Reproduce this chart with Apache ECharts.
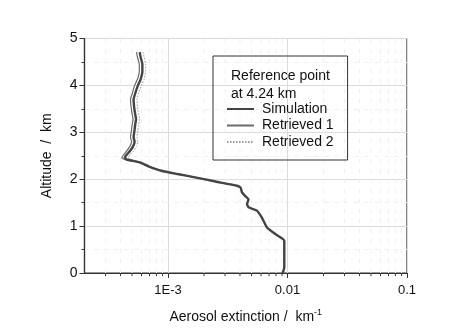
<!DOCTYPE html>
<html>
<head>
<meta charset="utf-8">
<script src="https://cdn.jsdelivr.net/npm/echarts@6/dist/echarts.min.js"></script>
<style>
  html, body { margin: 0; padding: 0; background: #fff; }
  #chart { width: 474px; height: 329px; }
</style>
</head>
<body>
<div id="chart"></div>
<script>
// Altitude levels (km) shared by all profiles
const altitudes = [4.71, 4.60, 4.45, 4.30, 4.13, 4.00, 3.85, 3.70, 3.55, 3.40, 3.28, 3.15, 3.05, 2.90, 2.80, 2.70, 2.60, 2.52, 2.46, 2.42, 2.36, 2.27, 2.18, 2.11, 2.04, 1.95, 1.86, 1.82, 1.72, 1.64, 1.57, 1.47, 1.40, 1.33, 1.18, 0.97, 0.83, 0.69, 0.40, 0.12, 0.03, 0.00];

// Aerosol extinction profiles (km^-1)
const simulation = [5.8e-4, 5.9e-4, 6.1e-4, 6.1e-4, 5.9e-4, 5.6e-4, 5.35e-4, 5.15e-4, 5.2e-4, 5.3e-4, 5.4e-4, 5.3e-4, 5.25e-4, 5.15e-4, 5.25e-4, 5.1e-4, 4.8e-4, 4.5e-4, 4.35e-4, 4.5e-4, 5.8e-4, 6.95e-4, 8.8e-4, 1.2e-3, 1.68e-3, 2.5e-3, 3.78e-3, 4.05e-3, 4.16e-3, 4.43e-3, 4.72e-3, 4.58e-3, 4.72e-3, 5.55e-3, 6.1e-3, 6.73e-3, 7.9e-3, 9.4e-3, 9.4e-3, 9.4e-3, 9.2e-3, 9.0e-3];
const retrieved1 = [5.45e-4, 5.55e-4, 5.75e-4, 5.75e-4, 5.55e-4, 5.25e-4, 5.05e-4, 4.85e-4, 4.9e-4, 5.0e-4, 5.1e-4, 5.0e-4, 4.95e-4, 4.85e-4, 4.95e-4, 4.8e-4, 4.5e-4, 4.25e-4, 4.1e-4, 4.35e-4, 5.7e-4, 6.9e-4, 8.8e-4, 1.2e-3, 1.68e-3, 2.5e-3, 3.78e-3, 4.05e-3, 4.16e-3, 4.43e-3, 4.72e-3, 4.58e-3, 4.72e-3, 5.55e-3, 6.1e-3, 6.73e-3, 7.9e-3, 9.4e-3, 9.4e-3, 9.4e-3, 9.2e-3, 9.0e-3];
const retrieved2 = [6.2e-4, 6.3e-4, 6.5e-4, 6.5e-4, 6.3e-4, 6.0e-4, 5.7e-4, 5.5e-4, 5.55e-4, 5.65e-4, 5.8e-4, 5.65e-4, 5.6e-4, 5.5e-4, 5.6e-4, 5.45e-4, 5.15e-4, 4.8e-4, 4.65e-4, 4.7e-4, 5.9e-4, 7.0e-4, 8.8e-4, 1.2e-3, 1.68e-3, 2.5e-3, 3.78e-3, 4.05e-3, 4.16e-3, 4.43e-3, 4.72e-3, 4.58e-3, 4.72e-3, 5.55e-3, 6.1e-3, 6.73e-3, 7.9e-3, 9.4e-3, 9.4e-3, 9.4e-3, 9.2e-3, 9.0e-3];

const seriesNames = ['Simulation', 'Retrieved 1', 'Retrieved 2'];

// Labelled decades on the extinction axis
const xTickValues = [1e-3, 1e-2, 1e-1];
const xTickLabels = ['1E-3', '0.01', '0.1'];
// Minor (2..9 x decade) positions on the extinction axis
const xMinorTicks = [3e-4, 4e-4, 5e-4, 6e-4, 7e-4, 8e-4, 9e-4,
  2e-3, 3e-3, 4e-3, 5e-3, 6e-3, 7e-3, 8e-3, 9e-3,
  2e-2, 3e-2, 4e-2, 5e-2, 6e-2, 7e-2, 8e-2, 9e-2];

const FONT = '"Liberation Sans", Arial, sans-serif';

function pairs(values) {
  return values.map((v, i) => [v, altitudes[i]]);
}

const chart = echarts.init(document.getElementById('chart'), null, { renderer: 'canvas' });

chart.setOption({
  animation: false,
  backgroundColor: '#fff',
  textStyle: { fontFamily: FONT },
  grid: {
    left: 84.5, right: 67, top: 38.5, bottom: 55,
    show: true, borderColor: '#333', borderWidth: 1.2, backgroundColor: 'transparent'
  },
  title: {
    text: 'Reference point\nat 4.24 km',
    left: 226, top: 62,
    textStyle: { fontFamily: FONT, fontSize: 14, fontWeight: 'normal', color: '#111', lineHeight: 18 }
  },
  legend: {
    data: seriesNames,
    orient: 'vertical',
    left: 213, top: 56,
    padding: [46, 14, 11, 13],
    itemWidth: 27, itemHeight: 14, itemGap: 2.5,
    borderColor: '#333', borderWidth: 1,
    itemStyle: { opacity: 0 },
    textStyle: { fontFamily: FONT, fontSize: 14, color: '#111', padding: [0, 0, 0, 3] }
  },
  xAxis: {
    type: 'log',
    min: 2e-4, max: 0.1,
    name: 'Aerosol extinction /  km{sup|-1}',
    nameLocation: 'middle',
    nameGap: 35,
    nameTextStyle: {
      fontFamily: FONT, fontSize: 14, color: '#111',
      rich: { sup: { fontFamily: FONT, fontSize: 9, color: '#111', padding: [0, 0, 9, 0] } }
    },
    axisLine: { lineStyle: { color: '#333', width: 1.2 } },
    axisTick: { show: true, length: 5, lineStyle: { color: '#333' } },
    axisLabel: {
      fontFamily: FONT, fontSize: 13, color: '#111', margin: 11,
      showMinLabel: false,
      formatter: function (v) {
        for (let i = 0; i < xTickValues.length; i++) {
          if (Math.abs(Math.log10(v) - Math.log10(xTickValues[i])) < 1e-6) return xTickLabels[i];
        }
        return '';
      }
    },
    splitLine: { show: true, lineStyle: { color: '#dcdcdc', width: 1 } }
  },
  yAxis: {
    type: 'value',
    min: 0, max: 5, interval: 1,
    name: 'Altitude  /  km',
    nameLocation: 'middle',
    nameGap: 30,
    nameTextStyle: { fontFamily: FONT, fontSize: 14, color: '#111' },
    axisLine: { show: true, lineStyle: { color: '#333', width: 1.2 } },
    axisTick: { show: true, length: 5, lineStyle: { color: '#333' } },
    minorTick: { show: true, splitNumber: 2, length: 3, lineStyle: { color: '#333' } },
    minorSplitLine: { show: true, lineStyle: { color: '#efefef', type: [4, 6] } },
    axisLabel: { fontFamily: FONT, fontSize: 14, color: '#111', margin: 7 },
    splitLine: { show: true, lineStyle: { color: '#dcdcdc', width: 1 } }
  },
  series: [
    {
      // faint minor gridlines and minor ticks on the log axis
      type: 'custom',
      name: 'minor',
      clip: false,
      silent: true,
      z: 1,
      data: xMinorTicks.map(v => [v]),
      renderItem: function (params, api) {
        const v = api.value(0);
        const top = api.coord([v, 5]);
        const bot = api.coord([v, 0]);
        return {
          type: 'group',
          children: [
            {
              type: 'line',
              shape: { x1: bot[0], y1: bot[1], x2: top[0], y2: top[1] },
              style: { stroke: '#efefef', lineWidth: 1, lineDash: [4, 6] }
            },
            {
              type: 'line',
              shape: { x1: bot[0], y1: bot[1], x2: bot[0], y2: bot[1] + 3 },
              style: { stroke: '#333', lineWidth: 1 }
            }
          ]
        };
      }
    },
    {
      name: 'Retrieved 2',
      type: 'line',
      data: pairs(retrieved2),
      symbol: 'none',
      smooth: 0.15,
      z: 3,
      lineStyle: { color: '#9a9a9a', width: 1, type: [1.5, 1.5] },
      itemStyle: { color: '#9a9a9a' }
    },
    {
      name: 'Retrieved 1',
      type: 'line',
      data: pairs(retrieved1),
      symbol: 'none',
      smooth: 0.15,
      z: 4,
      lineStyle: { color: '#6a6a6a', width: 1.2 },
      itemStyle: { color: '#6a6a6a' }
    },
    {
      name: 'Simulation',
      type: 'line',
      data: pairs(simulation),
      symbol: 'none',
      smooth: 0.15,
      z: 5,
      lineStyle: { color: '#444', width: 2.4 },
      itemStyle: { color: '#444' }
    }
  ]
});
</script>
</body>
</html>
